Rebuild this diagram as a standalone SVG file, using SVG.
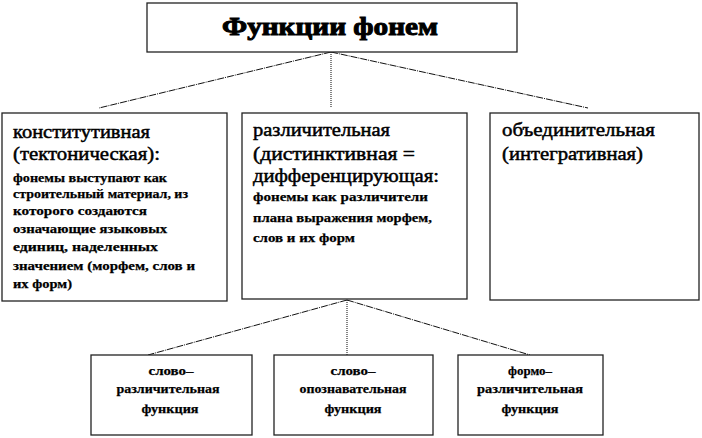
<svg xmlns="http://www.w3.org/2000/svg" width="702" height="438" viewBox="0 0 702 438">
<style>
.box{fill:#fff;stroke:#222;stroke-width:1.3}
.con{fill:none;stroke:#111;stroke-width:1;stroke-dasharray:7 1 1 1}
.vcon{fill:none;stroke:#333;stroke-width:1.2;stroke-dasharray:1 1}
.t{font-family:"Times New Roman","Liberation Serif",Tinos,"DejaVu Serif",serif;fill:#000}
.title{font-size:25px;font-weight:bold;stroke:#000;stroke-width:1}
.big{font-size:19px;stroke:#000;stroke-width:0.5}
.small{font-size:13px;font-weight:bold;stroke:#000;stroke-width:0.25}
.bot{font-size:13px;font-weight:bold;text-anchor:middle;stroke:#000;stroke-width:0.25}
</style>
<rect width="702" height="438" fill="#fff"/>
<g id="connectors">
<line class="con" x1="331" y1="52" x2="99" y2="108"/>
<line class="vcon" x1="331" y1="52" x2="331" y2="108"/>
<line class="con" x1="331" y1="52" x2="588" y2="108"/>
<line class="con" x1="347" y1="300" x2="148" y2="355"/>
<line class="vcon" x1="347" y1="300" x2="347" y2="355"/>
<line class="con" x1="347" y1="300" x2="530" y2="355"/>
</g>
<g id="title">
<rect class="box" x="147" y="3" width="370" height="49"/>
<text class="t title" x="330" y="35" text-anchor="middle" textLength="216" lengthAdjust="spacingAndGlyphs">Функции фонем</text>
</g>
<g id="constitutive">
<rect class="box" x="2" y="113" width="225" height="188"/>
<text class="t big" x="13" y="138" textLength="137" lengthAdjust="spacingAndGlyphs">конститутивная</text>
<text class="t big" x="13" y="160" textLength="147" lengthAdjust="spacingAndGlyphs">(тектоническая):</text>
<text class="t small" x="13" y="182" textLength="154" lengthAdjust="spacingAndGlyphs">фонемы выступают как</text>
<text class="t small" x="13" y="198" textLength="175" lengthAdjust="spacingAndGlyphs">строительный материал, из</text>
<text class="t small" x="13" y="215" textLength="134" lengthAdjust="spacingAndGlyphs">которого  создаются</text>
<text class="t small" x="13" y="233" textLength="154" lengthAdjust="spacingAndGlyphs">означающие  языковых</text>
<text class="t small" x="13" y="251" textLength="145" lengthAdjust="spacingAndGlyphs">единиц, наделенных</text>
<text class="t small" x="13" y="270" textLength="182" lengthAdjust="spacingAndGlyphs">значением (морфем,  слов и</text>
<text class="t small" x="13" y="288" textLength="59" lengthAdjust="spacingAndGlyphs">их форм)</text>
</g>
<g id="distinctive">
<rect class="box" x="242" y="113" width="225" height="186"/>
<text class="t big" x="253" y="136" textLength="137" lengthAdjust="spacingAndGlyphs">различительная</text>
<text class="t big" x="253" y="160" textLength="162" lengthAdjust="spacingAndGlyphs">(дистинктивная  =</text>
<text class="t big" x="253" y="182" textLength="186" lengthAdjust="spacingAndGlyphs">дифференцирующая:</text>
<text class="t small" x="253" y="201" textLength="175" lengthAdjust="spacingAndGlyphs">фонемы  как различители</text>
<text class="t small" x="253" y="222" textLength="179" lengthAdjust="spacingAndGlyphs">плана выражения морфем,</text>
<text class="t small" x="253" y="242" textLength="102" lengthAdjust="spacingAndGlyphs">слов и их форм</text>
</g>
<g id="integrative">
<rect class="box" x="490" y="113" width="209" height="187"/>
<text class="t big" x="502" y="136" textLength="153" lengthAdjust="spacingAndGlyphs">объединительная</text>
<text class="t big" x="502" y="160" textLength="141" lengthAdjust="spacingAndGlyphs">(интегративная)</text>
</g>
<g id="word-distinctive">
<rect class="box" x="91" y="355" width="161" height="80"/>
<text class="t bot" x="171" y="375" textLength="45" lengthAdjust="spacingAndGlyphs">слово–</text>
<text class="t bot" x="168" y="393" textLength="103" lengthAdjust="spacingAndGlyphs">различительная</text>
<text class="t bot" x="170" y="413" textLength="57" lengthAdjust="spacingAndGlyphs">функция</text>
</g>
<g id="word-recognitive">
<rect class="box" x="274" y="355" width="159" height="80"/>
<text class="t bot" x="353" y="375" textLength="45" lengthAdjust="spacingAndGlyphs">слово–</text>
<text class="t bot" x="353" y="393" textLength="107" lengthAdjust="spacingAndGlyphs">опознавательная</text>
<text class="t bot" x="353" y="413" textLength="57" lengthAdjust="spacingAndGlyphs">функция</text>
</g>
<g id="form-distinctive">
<rect class="box" x="458" y="355" width="145" height="80"/>
<text class="t bot" x="530" y="375" textLength="44" lengthAdjust="spacingAndGlyphs">формо–</text>
<text class="t bot" x="530" y="393" textLength="106" lengthAdjust="spacingAndGlyphs">различительная</text>
<text class="t bot" x="530" y="413" textLength="57" lengthAdjust="spacingAndGlyphs">функция</text>
</g>
</svg>
